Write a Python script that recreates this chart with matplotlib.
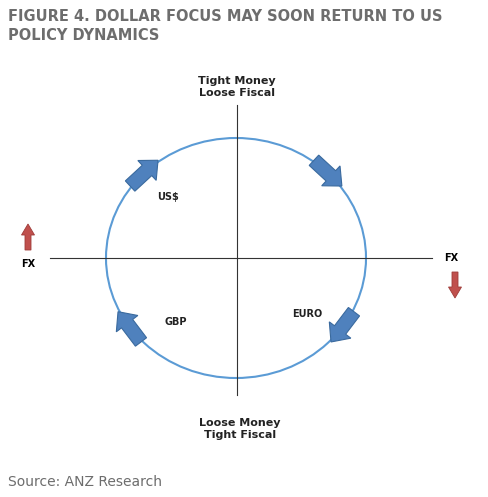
import numpy as np
import matplotlib.pyplot as plt
from matplotlib.patches import Ellipse, FancyArrow

# diagram content
cycle_labels = ['US$', 'EURO', 'GBP']
label_pos = [(168, 197), (307, 314), (176, 322)]
arrow_angles = [135, 45, -35, 215]      # degrees on the ellipse
axis_top = 'Tight Money\nLoose Fiscal'
axis_bottom = 'Loose Money\nTight Fiscal'
fx_labels = ['FX', 'FX']
title = 'FIGURE 4. DOLLAR FOCUS MAY SOON RETURN TO US\nPOLICY DYNAMICS'
source = 'Source: ANZ Research'

cx, cy, rx, ry = 236, 258, 130, 120
blue = '#4F81BD'
red = '#C0504D'

fig = plt.figure(figsize=(4.88, 4.97), dpi=100)
ax = fig.add_axes([0, 0, 1, 1])
ax.set_xlim(0, 488)
ax.set_ylim(497, 0)
ax.axis('off')

ax.add_patch(Ellipse((cx, cy), 2 * rx, 2 * ry, fill=False, ec='#5B9BD5', lw=1.5))
ax.plot([237, 237], [105, 395], color='#333333', lw=0.8)
ax.plot([50, 432], [258, 258], color='#333333', lw=0.8)

for a in arrow_angles:
    t = np.radians(a)
    px, py = cx + rx * np.cos(t), cy - ry * np.sin(t)
    dx, dy = rx * np.sin(t), ry * np.cos(t)
    n = np.hypot(dx, dy)
    dx, dy = dx / n, dy / n
    L = 38
    ax.add_patch(FancyArrow(px - dx * L / 2, py - dy * L / 2, dx * L, dy * L,
                            width=14, head_width=27, head_length=15,
                            length_includes_head=True, fc=blue, ec='#3A6A9E', lw=0.8))

for lab, (x, y) in zip(cycle_labels, label_pos):
    ax.text(x, y, lab, fontsize=7, fontweight='bold', ha='center', va='center', color='#222222')

ax.text(237, 87, axis_top, fontsize=8, fontweight='bold', ha='center', va='center', color='#222222')
ax.text(240, 429, axis_bottom, fontsize=8, fontweight='bold', ha='center', va='center', color='#222222')
ax.text(28, 264, fx_labels[0], fontsize=7, fontweight='bold', ha='center', va='center')
ax.text(451, 258, fx_labels[1], fontsize=7, fontweight='bold', ha='center', va='center')

ax.add_patch(FancyArrow(28, 250, 0, -26, width=6, head_width=13, head_length=11,
                        length_includes_head=True, fc=red, ec='#9E3B38', lw=0.6))
ax.add_patch(FancyArrow(455, 272, 0, 26, width=6, head_width=13, head_length=11,
                        length_includes_head=True, fc=red, ec='#9E3B38', lw=0.6))

ax.text(8, 9, title, fontsize=10.5, fontweight='bold', ha='left', va='top',
        color='#6D6D6D', linespacing=1.35)
ax.text(8, 482, source, fontsize=10, ha='left', va='center', color='#6D6D6D')

fig.savefig('out.png', dpi=100)
